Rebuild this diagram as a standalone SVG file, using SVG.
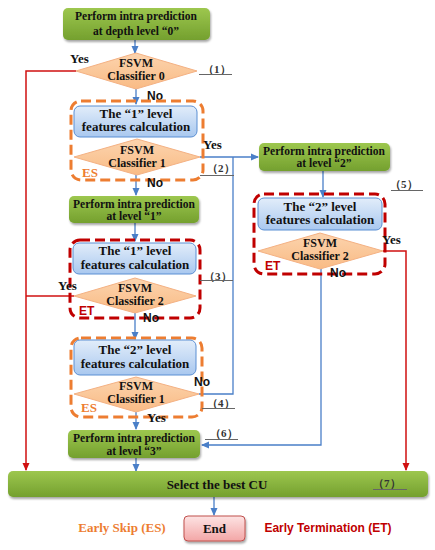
<svg xmlns="http://www.w3.org/2000/svg" width="435" height="550" viewBox="0 0 435 550">
<defs>
<linearGradient id="gG" x1="0" y1="0" x2="0" y2="1"><stop offset="0" stop-color="#9dc74f"/><stop offset="1" stop-color="#74a02e"/></linearGradient>
<linearGradient id="gB" x1="0" y1="0" x2="0" y2="1"><stop offset="0" stop-color="#e2edfa"/><stop offset="1" stop-color="#a9c8ef"/></linearGradient>
<linearGradient id="gD" x1="0" y1="0" x2="0" y2="1"><stop offset="0" stop-color="#fcd4ae"/><stop offset="1" stop-color="#f9bb85"/></linearGradient>
<linearGradient id="gE" x1="0" y1="0" x2="0" y2="1"><stop offset="0" stop-color="#fde3e3"/><stop offset="1" stop-color="#f3a6a6"/></linearGradient>
<filter id="sh" x="-10%" y="-20%" width="120%" height="150%"><feDropShadow dx="1" dy="2" stdDeviation="1.2" flood-color="#000" flood-opacity="0.35"/></filter>
<marker id="aB" markerWidth="8" markerHeight="8" refX="7" refY="4" orient="auto" markerUnits="userSpaceOnUse"><path d="M0,0.5 L8,4 L0,7.5 Z" fill="#4a7fc8"/></marker>
<marker id="aR" markerWidth="8" markerHeight="8" refX="7" refY="4" orient="auto" markerUnits="userSpaceOnUse"><path d="M0,0.5 L8,4 L0,7.5 Z" fill="#d01010"/></marker>
</defs>
<style>
.g{fill:url(#gG);filter:url(#sh)}
.b{fill:url(#gB);stroke:#5b8fd3;stroke-width:1}
.d{fill:url(#gD);stroke:#f4b183;stroke-width:1}
.t{font-family:"Liberation Serif",serif;font-weight:bold;text-anchor:middle;fill:#111}
.s{font-size:11.5px}
.m{font-size:13px}
.k{font-size:12px}
.yes{font-family:"Liberation Serif",serif;font-weight:bold;font-size:13px;fill:#111}
.no{font-family:"Liberation Sans",sans-serif;font-weight:bold;font-size:12px;fill:#111}
.num{font-family:"Liberation Serif",serif;font-weight:bold;font-size:11px;fill:#333}
.ul{stroke:#666;stroke-width:1}
.esr{fill:none;stroke:#ed7d31;stroke-width:3;stroke-dasharray:10 5}
.etr{fill:none;stroke:#c00000;stroke-width:3;stroke-dasharray:10 5}
.bl{fill:none;stroke:#4a7fc8;stroke-width:1.3}
.rl{fill:none;stroke:#d01010;stroke-width:1.5}
</style>
<g id="connectors">
<path class="bl" d="M135,40 V53" marker-end="url(#aB)"/>
<path class="bl" d="M136,89 V104" marker-end="url(#aB)"/>
<path class="bl" d="M136,175 V195" marker-end="url(#aB)"/>
<path class="bl" d="M135,223 V241" marker-end="url(#aB)"/>
<path class="bl" d="M135,313 V339" marker-end="url(#aB)"/>
<path class="bl" d="M136,412 V429" marker-end="url(#aB)"/>
<path class="bl" d="M136,458 V471" marker-end="url(#aB)"/>
<path class="bl" d="M214,497 V515" marker-end="url(#aB)"/>
<path class="bl" d="M200,157 H258" marker-end="url(#aB)"/>
<path class="bl" d="M199,394 H233 V157"/>
<path class="bl" d="M323,171 V197" marker-end="url(#aB)"/>
<path class="bl" d="M321,269 V445 H202" marker-end="url(#aB)"/>
<path class="rl" d="M76,71 H26 V470" marker-end="url(#aR)"/>
<path class="rl" d="M74,296 H26"/>
<path class="rl" d="M383,251 H406 V470" marker-end="url(#aR)"/>
</g>
<g id="n-depth0"><rect class="g" x="63" y="8" width="147" height="32" rx="5"/><text class="t s" x="136" y="20">Perform intra prediction</text><text class="t s" x="136" y="35">at depth level “0”</text></g>
<g id="n-c0"><polygon class="d" points="136,53 197,71 136,89 76,71"/><text class="t k" x="136" y="67">FSVM</text><text class="t k" x="136" y="80">Classifier 0</text><text class="yes" x="70" y="63">Yes</text><text class="no" x="147" y="100">No</text><text class="num" x="203" y="73">（1）</text><line class="ul" x1="199" y1="74.5" x2="232" y2="74.5"/></g>
<g id="n-es1"><rect class="esr" x="71" y="101" width="132" height="79" rx="10"/><rect class="b" x="74" y="106" width="123" height="31" rx="6"/><text class="t m" x="136" y="117.5">The “1” level</text><text class="t m" x="136" y="131">features calculation</text><polygon class="d" points="137,139 200,157 137,175 74,157"/><text class="t k" x="137" y="154">FSVM</text><text class="t k" x="137" y="167">Classifier 1</text><text class="t" x="90" y="177" style="font-size:13px;fill:#ed7d31">ES</text><text class="yes" x="203" y="149">Yes</text><text class="no" x="147" y="187">No</text><text class="num" x="207" y="172">（2）</text><line class="ul" x1="200" y1="175.5" x2="234" y2="175.5"/></g>
<g id="n-level1"><rect class="g" x="69" y="196" width="130" height="27" rx="5"/><text class="t s" x="134" y="208">Perform intra prediction</text><text class="t s" x="134" y="220">at level “1”</text></g>
<g id="n-et1"><rect class="etr" x="70" y="240" width="130" height="78" rx="10"/><rect class="b" x="73" y="243" width="123" height="31" rx="6"/><text class="t m" x="135" y="255">The “1” level</text><text class="t m" x="135" y="268.5">features calculation</text><polygon class="d" points="135,278 196,296 135,313 74,296"/><text class="t k" x="135" y="292">FSVM</text><text class="t k" x="135" y="305">Classifier 2</text><text class="no" x="79" y="315" style="fill:#c00000">ET</text><text class="yes" x="58" y="290">Yes</text><text class="no" x="143" y="322">No</text><text class="num" x="204" y="280">（3）</text><line class="ul" x1="200" y1="280.5" x2="233" y2="280.5"/></g>
<g id="n-es2"><rect class="esr" x="71" y="338" width="131" height="79" rx="10"/><rect class="b" x="74" y="340" width="122" height="35" rx="6"/><text class="t m" x="135" y="354">The “2” level</text><text class="t m" x="135" y="368">features calculation</text><polygon class="d" points="136,377 199,394 136,412 74,394"/><text class="t k" x="136" y="390">FSVM</text><text class="t k" x="136" y="403">Classifier 1</text><text class="t" x="89" y="412" style="font-size:13px;fill:#ed7d31">ES</text><text class="no" x="194" y="386">No</text><text class="yes" x="147" y="422">Yes</text><text class="num" x="207" y="407">（4）</text><line class="ul" x1="202" y1="408.5" x2="235" y2="408.5"/></g>
<g id="n-level3"><rect class="g" x="68" y="430" width="132" height="28" rx="5"/><text class="t s" x="134" y="442">Perform intra prediction</text><text class="t s" x="134" y="455">at  level “3”</text><text class="num" x="210" y="437">（6）</text><line class="ul" x1="205" y1="439.5" x2="238" y2="439.5"/></g>
<g id="n-level2"><rect class="g" x="259" y="143" width="131" height="28" rx="5"/><text class="t s" x="324" y="155">Perform intra prediction</text><text class="t s" x="324" y="167">at level “2”</text></g>
<g id="n-et2"><rect class="etr" x="254" y="194" width="131" height="80" rx="10"/><rect class="b" x="258" y="198" width="124" height="32" rx="6"/><text class="t m" x="320" y="210.5">The “2” level</text><text class="t m" x="320" y="224">features calculation</text><polygon class="d" points="320,233 383,251 320,269 258,251"/><text class="t k" x="320" y="247">FSVM</text><text class="t k" x="320" y="260">Classifier 2</text><text class="no" x="265" y="270" style="fill:#c00000">ET</text><text class="yes" x="382" y="244">Yes</text><text class="no" x="330" y="277">No</text><text class="num" x="390" y="188">（5）</text><line class="ul" x1="391" y1="190.5" x2="423" y2="190.5"/></g>
<g id="n-select"><rect class="g" x="8" y="471" width="420" height="26" rx="5"/><text class="t m" x="217" y="488.5">Select the best CU</text><text class="num" x="373" y="487">（7）</text><line class="ul" x1="373" y1="489.5" x2="407" y2="489.5"/></g>
<g id="n-end"><rect x="184" y="516" width="61" height="25" rx="4" fill="url(#gE)" stroke="#c0504d" stroke-width="1" filter="url(#sh)"/><text class="t m" x="214.5" y="533">End</text></g>
<g id="legend"><text x="122" y="532" style="font-family:'Liberation Serif',serif;font-weight:bold;font-size:13px;fill:#ed7d31;text-anchor:middle">Early Skip (ES)</text><text x="328" y="532" style="font-family:'Liberation Sans',sans-serif;font-weight:bold;font-size:12px;fill:#c00000;text-anchor:middle">Early Termination (ET)</text></g>
</svg>
